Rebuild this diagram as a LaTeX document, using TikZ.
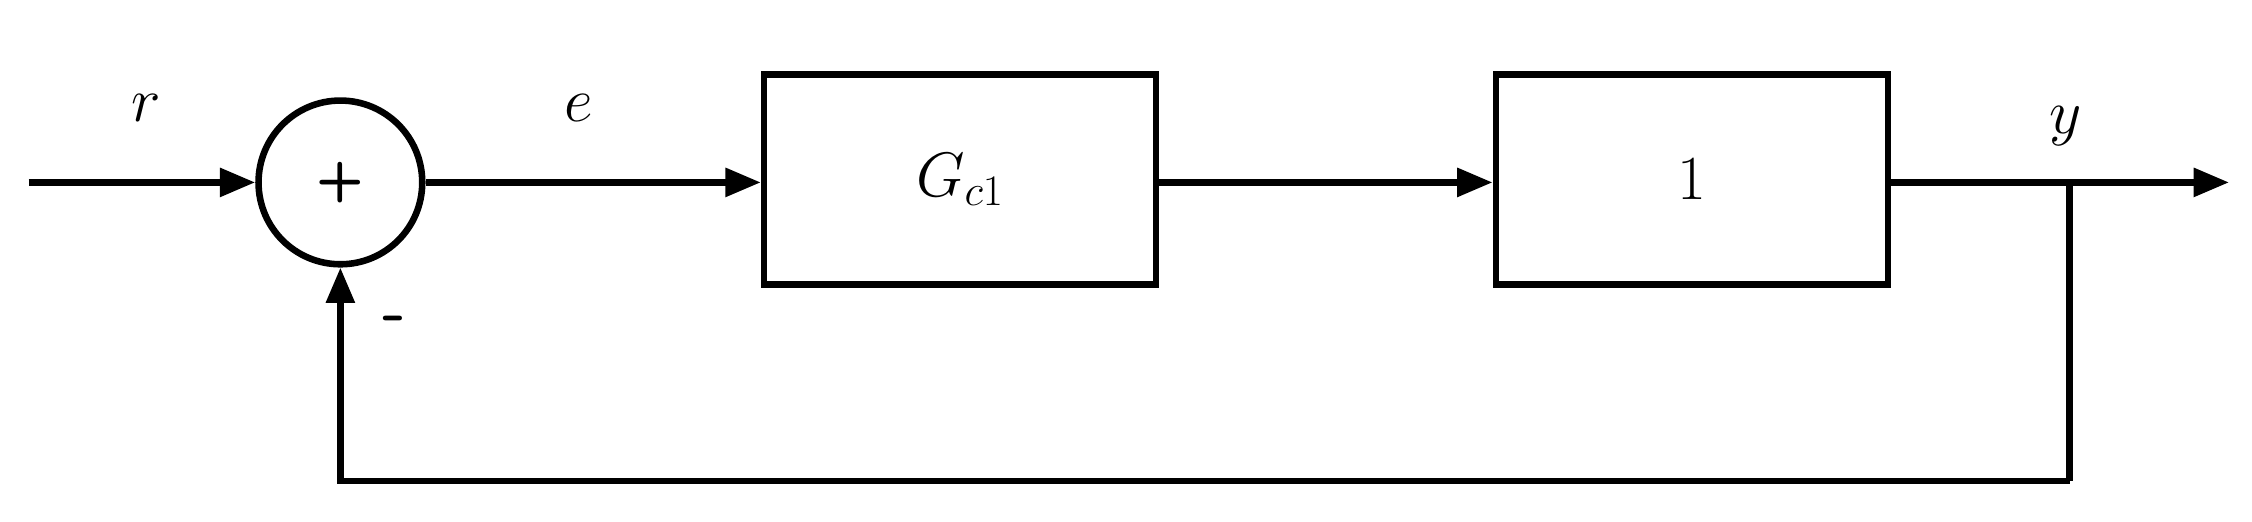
\documentclass[tikz,border=0pt]{standalone}
\usetikzlibrary{arrows.meta}
\begin{document}
\begin{tikzpicture}[x=0.02cm,y=-0.02cm,
  line/.style={line width=2.6pt,-{Triangle[length=14pt,width=11pt]}},
  blk/.style={draw,line width=2.6pt,minimum width=273*0.02cm,minimum height=146*0.02cm,inner sep=0pt},
  lbl/.style={font=\fontsize{26}{30}\selectfont}]
\useasboundingbox (0,0) rectangle (1568,363);
\coordinate (in) at (20,127);
\node[draw,circle,line width=2.6pt,minimum size=114*0.02cm,inner sep=0pt,font=\fontsize{22}{26}\selectfont\sffamily\bfseries] (sum) at (237,127) {+};
\node[blk,lbl] (g1) at (668.5,125) {$G_{c1}$};
\node[blk,lbl] (g2) at (1178,125) {$1$};
\coordinate (tap) at (1441,127);
\coordinate (out) at (1552,127);
\coordinate (bot) at (1441,335);
\draw[line] (in) -- (sum.west);
\draw[line] (sum.east) -- (g1.west |- sum.east);
\draw[line] (g1.east |- 0,127) -- (g2.west |- 0,127);
\draw[line] (g2.east |- 0,127) -- (out);
\draw[line width=2.6pt] (tap) -- (bot);
\draw[line] (bot) -| (sum.south);
\node[lbl] (r) at (102,75) {$r$};
\node[lbl] (e) at (403,75) {$e$};
\node[lbl] (y) at (1438,88) {$y$};
\node[font=\fontsize{26}{30}\selectfont\sffamily\bfseries] (m) at (275,226) {-};
\end{tikzpicture}
\end{document}
